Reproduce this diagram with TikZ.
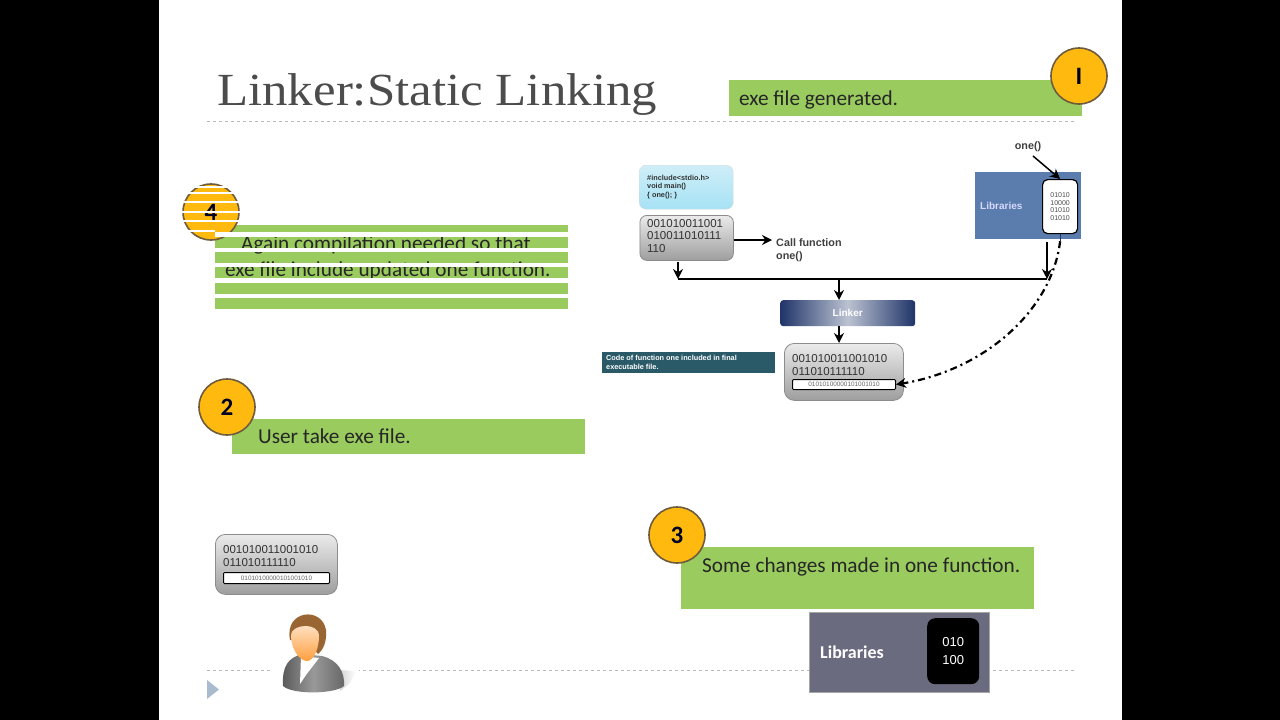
\documentclass[tikz,border=0pt]{standalone}
\usepackage{fontspec}
\setmainfont{Carlito}
\newfontfamily\titlefont[FakeStretch=1.107]{Liberation Serif}
\newfontfamily\boxfont{Liberation Sans}
\usetikzlibrary{arrows.meta}
\definecolor{barcolor}{HTML}{99CB5F}
\definecolor{badgecolor}{HTML}{FFB90F}
\definecolor{badgeline}{HTML}{6E5C3C}
\definecolor{ruleline}{HTML}{B8B8B8}
\definecolor{libblue}{HTML}{5A7DAD}
\definecolor{libgray}{HTML}{6B6B80}
\definecolor{tealbox}{HTML}{2A5A68}
\definecolor{navy}{HTML}{1F3468}
\definecolor{arrowgray}{HTML}{A9BCCF}
\definecolor{srctop}{HTML}{CFEEF8}
\definecolor{srcbot}{HTML}{A6E2F5}
\tikzset{
	pagebar/.style={fill=black,draw=none},
	greenbar/.style={anchor=north west,fill=barcolor,inner sep=0pt},
	bartext/.style={anchor=base west,inner sep=0pt,text=black!85,font=\fontsize{21.25}{21}\selectfont},
	badge/.style={circle,fill=badgecolor,draw=badgeline,line width=1.6pt,minimum size=56pt,inner sep=0pt,text=black!85!blue,font=\fontsize{25}{25}\selectfont\bfseries},
	rulestyle/.style={draw=ruleline,dashed,line width=0.8pt},
	bincard/.style={anchor=north west,rounded corners=7pt,draw=black!45,line width=0.8pt,top color=black!8,bottom color=black!38,inner sep=0pt},
	binstrip/.style={anchor=north west,rounded corners=1pt,draw=black,line width=1pt,fill=white,inner sep=0pt,text=black!60,font=\boxfont\fontsize{6.4}{6.4}\selectfont},
	bintext/.style={anchor=north west,inner sep=0pt,align=left,text=black!80,font=\boxfont\fontsize{11.5}{12.7}\selectfont},
	wire/.style={draw=black,line width=1.7pt},
	wirearrow/.style={wire,-{Stealth[length=10pt,width=10pt]}},
	smalllabel/.style={inner sep=0pt,anchor=west,align=left,text=black!75,font=\boxfont\bfseries\fontsize{10.8}{12.5}\selectfont}
}
\begin{document}
\begin{tikzpicture}[x=1pt,y=-1pt]
	\useasboundingbox (0,0) rectangle (1280,720);
	\fill[white] (0,0) rectangle (1280,720);
	\fill[pagebar] (0,0) rectangle (159,720);
	\fill[pagebar] (1122,0) rectangle (1280,720);

	\node[anchor=base west,inner sep=0pt,text=black!70,font=\titlefont\fontsize{46}{46}\selectfont] (title) at (217,105) {Linker:Static Linking};
	\coordinate (topL) at (207,121);
	\coordinate (topR) at (1075,121);
	\coordinate (botL) at (207,670.5);
	\coordinate (botR) at (1075,670.5);
	\draw[rulestyle] (topL) -- (topR);
	\draw[rulestyle] (botL) -- (botR);
	\fill[arrowgray] (207,680) -- (219,689.5) -- (207,699) -- cycle;

	% step bars
	\node[greenbar,minimum width=353pt,minimum height=36pt] (barone) at (729,80) {};
	\node[bartext] (barone text) at (739,105) {exe file generated.};
	\node[badge] (badgeone) at (1079,76) {I};
	\node[greenbar,minimum width=353pt,minimum height=35.5pt] (bartwo) at (231.5,418.5) {};
	\node[bartext] (bartwo text) at (258,443) {User take exe file.};
	\node[badge] (badgetwo) at (227,407) {2};
	\node[greenbar,minimum width=353pt,minimum height=62pt] (barthree) at (681,546.5) {};
	\node[bartext] (barthree text) at (702,572) {Some changes made in one function.};
	\node[badge] (badgethree) at (677,535) {3};
	\node[greenbar,minimum width=353pt,minimum height=84pt] (barfour) at (215,225) {};
	\node[bartext] (barfour one) at (241,250.5) {Again compilation needed so that};
	\node[bartext] (barfour two) at (225,276) {exe file include updated one function.};
	\node[badge] (badgefour) at (211,212) {4};
	\foreach \ya/\yb in {232/236.7,248/252,263/267,278/283,294/298}
		\fill[white] (215,\ya) rectangle (568,\yb);
	\foreach \ya in {185.5,191.5,201,210.5,219.5}
		\fill[white] (182,\ya) rectangle (241,\ya+2);
	\fill[white] (182,230) rectangle (215,232);

	% linking diagram
	\node[anchor=north west,rounded corners=7pt,draw=black!15,top color=srctop,bottom color=srcbot,minimum width=94pt,minimum height=44pt,inner sep=0pt] (source) at (639,165) {};
	\node[anchor=west,inner sep=0pt,align=left,text=black!80,font=\boxfont\bfseries\fontsize{7.3}{8.3}\selectfont] (source text) at (647,187) {\#include<stdio.h>\\void main()\\\{ one(); \}};
	\node[bincard,minimum width=93.5pt,minimum height=45pt] (object) at (639.5,215) {};
	\node[bintext] (object text) at (647,219) {001010011001\\010011010111\\110};
	\node[smalllabel] (call) at (776,250) {Call function\\one()};
	\coordinate (callend) at (772,240);
	\draw[wirearrow] (object.east |- callend) -- (callend);

	\node[anchor=north west,fill=libblue,minimum width=106pt,minimum height=67pt,inner sep=0pt] (libs) at (975,172) {};
	\node[anchor=west,inner sep=0pt,text=white!85!blue,font=\boxfont\bfseries\fontsize{10}{10}\selectfont] (libs text) at (980,205.5) {Libraries};
	\node[anchor=north west,rounded corners=5pt,draw=black,line width=1.2pt,fill=white,minimum width=35pt,minimum height=54pt,inner sep=0pt,align=center,text=black!70,font=\boxfont\fontsize{7}{7.8}\selectfont] (libcode) at (1042,179) {01010\\10000\\01010\\01010};
	\node[inner sep=0pt,text=black!75,font=\boxfont\bfseries\fontsize{10.8}{11}\selectfont] (oneofn) at (1028,147) {one()};
	\draw[wirearrow,line width=1.5pt] (oneofn) ++(5,9) coordinate (onestart) -- (libcode.north);

	\coordinate (busL) at (678,279);
	\coordinate (busM) at (839,279);
	\coordinate (busR) at (1047,279);
	\coordinate (objdrop) at (678,262);
	\coordinate (libdrop) at (1047,242);
	\draw[wire] (busL) -- (busR);
	\draw[wirearrow] (objdrop) -- (busL);
	\draw[wirearrow] (libdrop) -- (busR);

	\node[anchor=north west,rounded corners=3pt,left color=navy,right color=navy,middle color=navy!30!white,minimum width=135pt,minimum height=26pt,inner sep=0pt,text=white,font=\boxfont\bfseries\fontsize{10}{10}\selectfont] (linker) at (780,300) {Linker};
	\coordinate (linkin) at (839,300);
	\coordinate (linkout) at (839,326);
	\coordinate (finalin) at (839,343);
	\draw[wirearrow] (busM) -- (linkin);
	\draw[wirearrow] (linkout) -- (finalin);

	\node[bincard,rounded corners=10pt,minimum width=119pt,minimum height=57pt] (final) at (784,343) {};
	\node[bintext] (final text) at (792,354.5) {001010011001010\\011010111110};
	\node[binstrip,minimum width=103pt,minimum height=10pt] (finalstrip) at (792,379) {01010100000101001010};
	\node[anchor=north west,fill=tealbox,minimum width=173pt,minimum height=21pt,inner sep=0pt] (note) at (602,352) {};
	\node[anchor=west,inner sep=0pt,align=left,text=white!90,font=\boxfont\bfseries\fontsize{7.3}{9}\selectfont] (note text) at (606,362.5) {Code of function one included in final\\executable file.};
	\draw[black,line width=2.2pt,dash pattern=on 7pt off 4pt on 2pt off 4pt,-{Stealth[length=10pt,width=10pt]}] (libcode.south) ++(0,7) coordinate (dashstart) .. controls (1052,310) and (985,370) .. (finalstrip.east);
	\draw[navy,line width=1.2pt] (libcode.south) -- (dashstart);

	% user's copy
	\node[bincard,rounded corners=10pt,minimum width=122pt,minimum height=60pt] (usercard) at (215,534) {};
	\node[bintext] (usercard text) at (223,545.5) {001010011001010\\011010111110};
	\node[binstrip,minimum width=106pt,minimum height=11pt] (userstrip) at (223,572) {01010100000101001010};

	\fill[white] (270,660) rectangle (359,680);
	\path[left color=black!18,right color=white] (338,670) -- (356,671) -- (350,683) -- (340,691) -- cycle;
	\path[left color=black!65,right color=black!60,middle color=black!40] (283,686) .. controls (282,666) and (288,658) .. (302,654) -- (322,656) .. controls (338,660) and (345,672) .. (344,686) .. controls (335,694) and (293,695) .. (283,686) -- cycle;
	\fill[white] (301,656) -- (319,658) -- (306,675) -- (300,684) -- cycle;
	\path[fill=brown!80!black] (290,640) .. controls (284,610) and (322,606) .. (326,630) .. controls (327,642) and (323,650) .. (318,654) -- (306,640) -- cycle;
	\path[top color=orange!25!white,bottom color=orange!75!white] (291,636) .. controls (291,628) and (300,626) .. (306,626) .. controls (312,626) and (319,629) .. (319,636) .. controls (319,648) and (314,661) .. (307,661) .. controls (299,661) and (291,648) .. (291,636) -- cycle;

	% changed library
	\node[anchor=north west,fill=libgray,draw=black!35,minimum width=180pt,minimum height=80pt,inner sep=0pt] (newlibs) at (809,612) {};
	\node[anchor=west,inner sep=0pt,text=white,font=\fontsize{18}{18}\selectfont\bfseries] (newlibs text) at (820,652) {Libraries};
	\node[anchor=north west,rounded corners=8pt,fill=black,minimum width=52pt,minimum height=66pt,inner sep=0pt,align=center,text=white,font=\boxfont\fontsize{13}{18}\selectfont] (newcode) at (927,618) {010\\100};
\end{tikzpicture}
\end{document}
